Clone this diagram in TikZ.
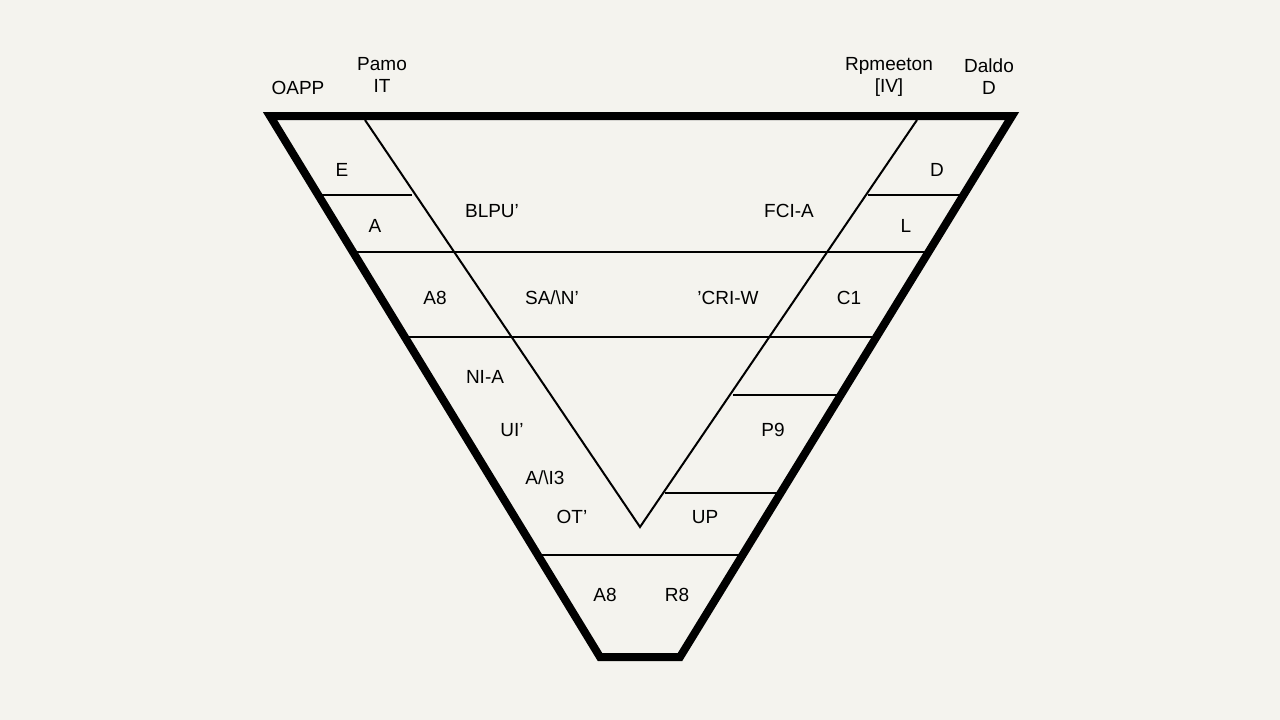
\documentclass[tikz,border=0pt]{standalone}
\usepackage{fontspec}
\setmainfont{Liberation Sans}
\begin{document}
\begin{tikzpicture}[x=1pt,y=-1pt,
  lab/.style={font=\fontsize{19}{22}\selectfont, inner sep=0pt, align=center},
  thin/.style={line width=2pt}]
\definecolor{bg}{HTML}{F4F3EE}
\fill[bg] (0,0) rectangle (1280,720);
\useasboundingbox (0,0) rectangle (1280,720);
% outer
\coordinate (TL) at (270,116); \coordinate (TR) at (1012,116);
\coordinate (BR) at (680,657); \coordinate (BL) at (600,657);
\draw[line width=8pt, line join=miter] (TL) -- (TR) -- (BR) -- (BL) -- cycle;
% inner diagonals
\coordinate (IL) at (365,120); \coordinate (IR) at (917,120); \coordinate (V) at (640,527);
\draw[thin] (IL) -- (V) -- (IR);
% horizontals
\draw[thin] (318,195) -- (412,195);
\draw[thin] (868,195) -- (962,195);
\draw[thin] (353,252) -- (929,252);
\draw[thin] (405,337) -- (876,337);
\draw[thin] (733,395) -- (840,395);
\draw[thin] (665,493) -- (778,493);
\draw[thin] (538,555) -- (741,555);
% labels
\node[lab] (a1) at (298,88) {OAPP};
\node[lab] (a2) at (382,75) {Pamo\\IT};
\node[lab] (a3) at (889,77) {Rpmeeton\\{[IV]}};
\node[lab] (a4) at (989,77) {Daldo\\D};
\node[lab] (b1) at (342,170) {E};
\node[lab] (b2) at (375,226) {A};
\node[lab] (b3) at (492,211) {BLPU'};
\node[lab] (b4) at (789,211) {FCI-A};
\node[lab] (b5) at (937,170) {D};
\node[lab] (b6) at (906,226) {L};
\node[lab] (c1) at (435,298) {A8};
\node[lab] (c2) at (552,298) {SA/\textbackslash N'};
\node[lab] (c3) at (728,298) {'CRI-W};
\node[lab] (c4) at (849,298) {C1};
\node[lab] (d1) at (485,377) {NI-A};
\node[lab] (d2) at (512,430) {UI'};
\node[lab] (d3) at (545,478) {A/\textbackslash I3};
\node[lab] (d4) at (572,517) {OT'};
\node[lab] (d5) at (773,430) {P9};
\node[lab] (d6) at (705,517) {UP};
\node[lab] (e1) at (605,595) {A8};
\node[lab] (e2) at (677,595) {R8};
\end{tikzpicture}
\end{document}
